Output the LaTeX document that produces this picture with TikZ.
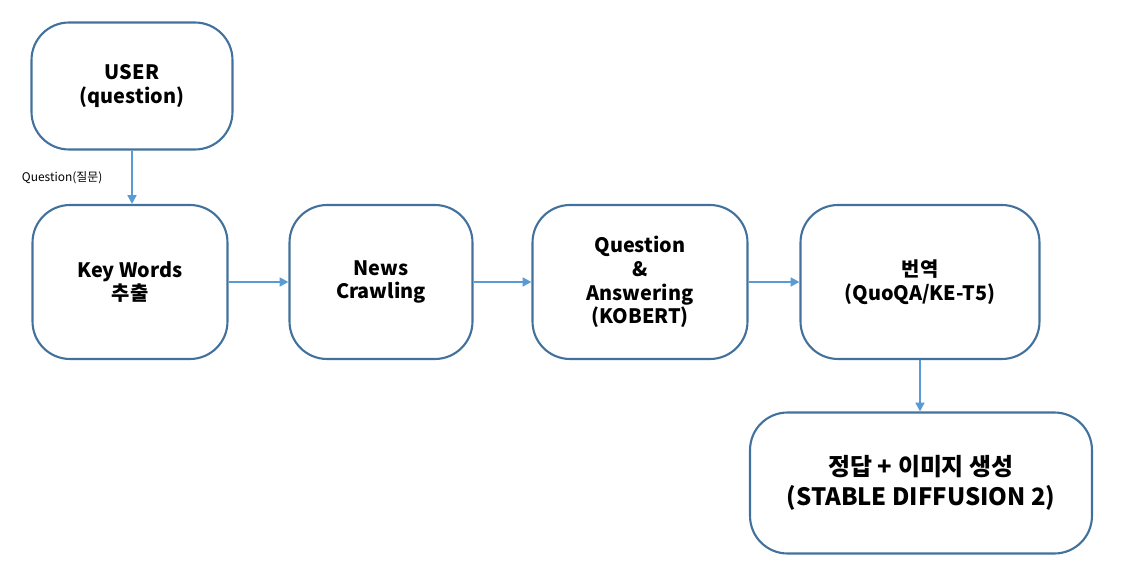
\documentclass[tikz,border=0pt]{standalone}
\usepackage{fontspec}
\setmainfont{Noto Sans CJK KR}
\usetikzlibrary{positioning,arrows.meta}
\definecolor{boxline}{HTML}{41719C}
\definecolor{arrowblue}{HTML}{5B9BD5}
\begin{document}
\begin{tikzpicture}[x=0.02cm,y=-0.02cm,
    box/.style={draw=boxline, line width=1.2pt, rounded corners=0.75cm, align=center,
      font=\fontsize{11.3}{13.5}\selectfont\bfseries, inner sep=0pt},
    flow/.style={draw=arrowblue, line width=1.4pt, -{Triangle[length=5pt,width=5pt]}}]
  \useasboundingbox (0,0) rectangle (1127,577);

  \node[box, minimum width=4.02cm, minimum height=2.54cm] (user) at (132,86) {USER\\(question)};
  \node[box, minimum width=3.9cm, minimum height=3.08cm] (key) at (130,282) {Key Words\\추출};
  \node[box, minimum width=3.66cm, minimum height=3.08cm] (news) at (381,282) {News\\Crawling};
  \node[box, minimum width=4.3cm, minimum height=3.08cm] (qa) at (640,282) {Question\\\&\\Answering\\(KOBERT)};
  \node[box, minimum width=4.78cm, minimum height=3.08cm] (trans) at (920,282) {번역\\(QuoQA/KE-T5)};
  \node[box, minimum width=6.84cm, minimum height=2.82cm,
    font=\fontsize{13.6}{17}\selectfont\bfseries] (answer) at (921,483) {정답 + 이미지 생성\\(STABLE DIFFUSION 2)};

  \draw[flow] (user.south) -- node[left=0.45cm, font=\fontsize{6.8}{8}\selectfont] {Question(질문)} (key.north -| user.south);
  \draw[flow] (key.east) -- (news.west);
  \draw[flow] (news.east) -- (qa.west);
  \draw[flow] (qa.east) -- (trans.west);
  \draw[flow] (trans.south) -- (answer.north -| trans.south);
\end{tikzpicture}
\end{document}
